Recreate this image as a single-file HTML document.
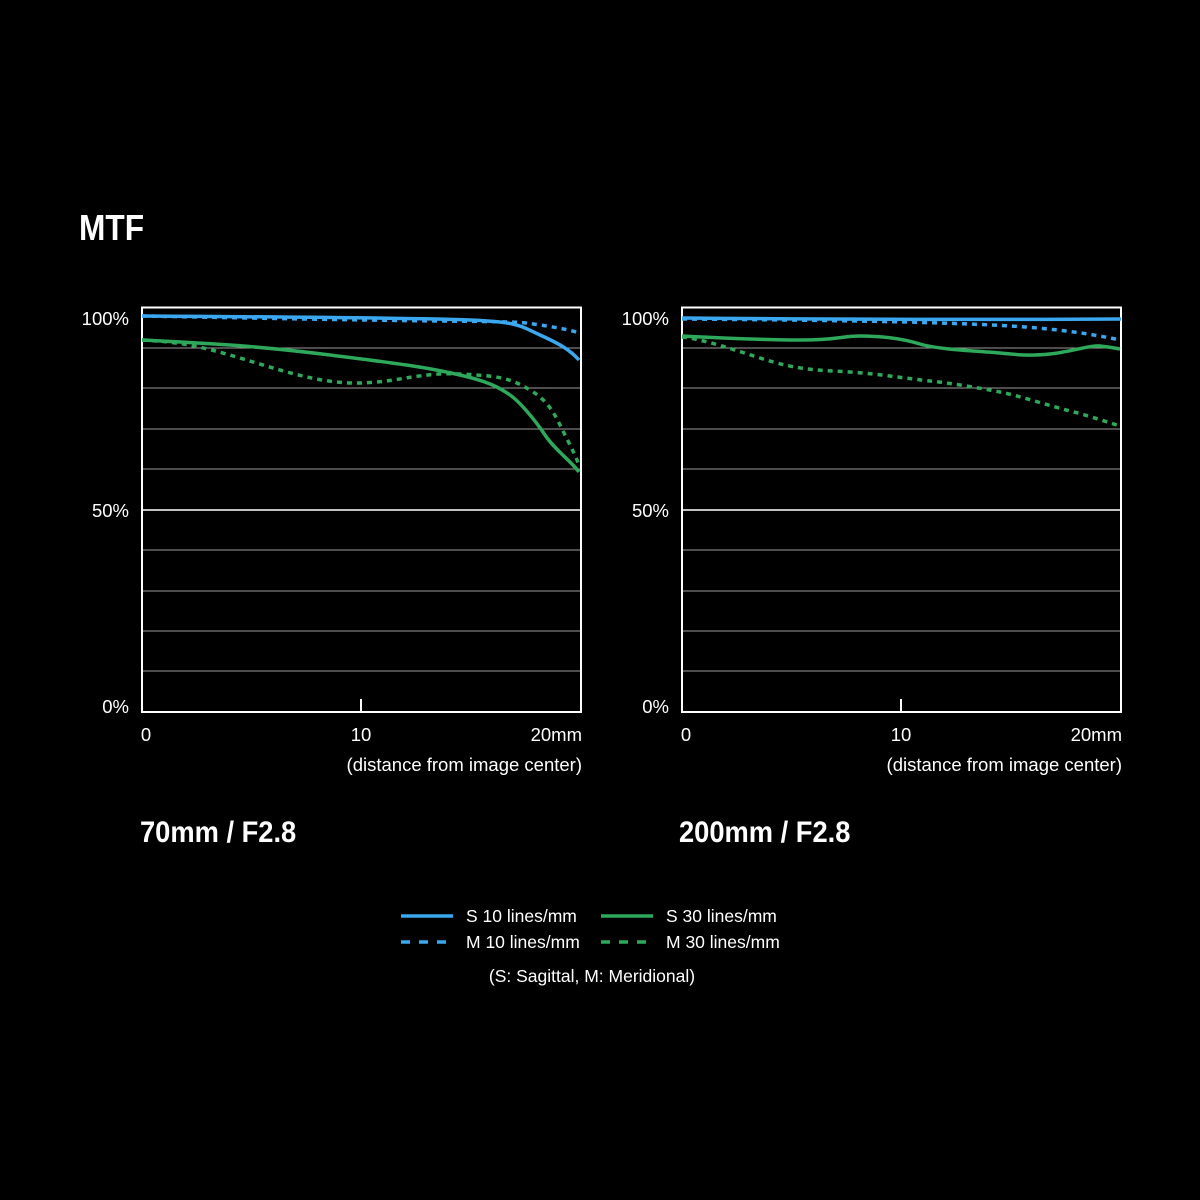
<!DOCTYPE html>
<html><head><style>
html,body{margin:0;padding:0;background:#000;}
svg{display:block;}
</style></head><body>
<svg width="1200" height="1200" viewBox="0 0 1200 1200" xmlns="http://www.w3.org/2000/svg" font-family="Liberation Sans, Arial, sans-serif">
<rect width="1200" height="1200" fill="#000"/>
<text x="79" y="240" fill="#fff" font-size="36" font-weight="bold" transform="translate(79 0) scale(0.88 1) translate(-79 0)">MTF</text>

<g id="c1">
<g stroke="#9a9a9a" stroke-width="1">
<line x1="142" x2="581" y1="348" y2="348"/><line x1="142" x2="581" y1="388" y2="388"/>
<line x1="142" x2="581" y1="429" y2="429"/><line x1="142" x2="581" y1="469" y2="469"/>
<line x1="142" x2="581" y1="550" y2="550"/><line x1="142" x2="581" y1="591" y2="591"/>
<line x1="142" x2="581" y1="631" y2="631"/><line x1="142" x2="581" y1="671" y2="671"/>
</g>
<line x1="142" x2="581" y1="510" y2="510" stroke="#fff" stroke-width="1.5"/>
<rect x="142" y="307.5" width="439" height="404.5" fill="none" stroke="#fff" stroke-width="2"/>
<line x1="361" x2="361" y1="699" y2="712" stroke="#fff" stroke-width="2"/>
<g fill="none" stroke-width="3.5">
<path d="M142,340 C200,343 250,345 330,355 S430,368 460,375 S500,388 510,395 S535,420 545,435 S570,460 579,472" stroke="#2ea85a"/>
<path d="M142,340 C180,342 200,346 240,358 S320,384 360,383 S420,372 460,374 S510,378 530,390 S555,415 565,435 S575,455 579,465" stroke="#2ea85a" stroke-dasharray="5 5"/>
<path d="M142,316 C300,317 420,318 470,320 S520,326 540,335 S570,350 579,360" stroke="#3ba7ee"/>
<path d="M142,316 C250,318 350,320 440,321 S520,322 540,325 S570,330 579,333" stroke="#3ba7ee" stroke-dasharray="5 5"/>
</g>
<g fill="#fff" font-size="18.5">
<text x="129" y="325" text-anchor="end">100%</text>
<text x="129" y="517" text-anchor="end">50%</text>
<text x="129" y="713" text-anchor="end">0%</text>
<text x="146" y="741" text-anchor="middle">0</text>
<text x="361" y="741" text-anchor="middle">10</text>
<text x="582" y="741" text-anchor="end">20mm</text>
<text x="582" y="771" text-anchor="end">(distance from image center)</text>
</g>
<text x="140" y="842" fill="#fff" font-size="30" font-weight="bold" transform="translate(140 0) scale(0.91 1) translate(-140 0)">70mm / F2.8</text>
</g>

<g id="c2">
<g stroke="#9a9a9a" stroke-width="1">
<line x1="682" x2="1121" y1="348" y2="348"/><line x1="682" x2="1121" y1="388" y2="388"/>
<line x1="682" x2="1121" y1="429" y2="429"/><line x1="682" x2="1121" y1="469" y2="469"/>
<line x1="682" x2="1121" y1="550" y2="550"/><line x1="682" x2="1121" y1="591" y2="591"/>
<line x1="682" x2="1121" y1="631" y2="631"/><line x1="682" x2="1121" y1="671" y2="671"/>
</g>
<line x1="682" x2="1121" y1="510" y2="510" stroke="#fff" stroke-width="1.5"/>
<rect x="682" y="307.5" width="439" height="404.5" fill="none" stroke="#fff" stroke-width="2"/>
<line x1="901" x2="901" y1="699" y2="712" stroke="#fff" stroke-width="2"/>
<g fill="none" stroke-width="3.5">
<path d="M682,336 C720,338 760,340 800,340 S840,336 860,336 S900,338 920,344 S980,351 1000,353 S1030,356 1050,354 S1090,345 1100,346 S1115,348 1120,349" stroke="#2ea85a"/>
<path d="M682,337 C700,339 720,345 760,358 S820,370 850,372 S910,379 930,381 S980,388 1000,392 S1050,406 1070,411 S1110,423 1120,426" stroke="#2ea85a" stroke-dasharray="5 5"/>
<path d="M682,318 C800,319 950,320 1121,319" stroke="#3ba7ee"/>
<path d="M682,319 C800,320 880,321 940,323 S1060,327 1120,340" stroke="#3ba7ee" stroke-dasharray="5 5"/>
</g>
<g fill="#fff" font-size="18.5">
<text x="669" y="325" text-anchor="end">100%</text>
<text x="669" y="517" text-anchor="end">50%</text>
<text x="669" y="713" text-anchor="end">0%</text>
<text x="686" y="741" text-anchor="middle">0</text>
<text x="901" y="741" text-anchor="middle">10</text>
<text x="1122" y="741" text-anchor="end">20mm</text>
<text x="1122" y="771" text-anchor="end">(distance from image center)</text>
</g>
<text x="679" y="842" fill="#fff" font-size="30" font-weight="bold" transform="translate(679 0) scale(0.91 1) translate(-679 0)">200mm / F2.8</text>
</g>

<g stroke-width="3.5">
<line x1="401" x2="453" y1="916" y2="916" stroke="#3ba7ee"/>
<line x1="401" x2="453" y1="942" y2="942" stroke="#3ba7ee" stroke-dasharray="9 9"/>
<line x1="601" x2="653" y1="916" y2="916" stroke="#2ea85a"/>
<line x1="601" x2="653" y1="942" y2="942" stroke="#2ea85a" stroke-dasharray="9 9"/>
</g>
<g fill="#fff" font-size="17.5">
<text x="466" y="922">S  10 lines/mm</text>
<text x="466" y="948">M 10 lines/mm</text>
<text x="666" y="922">S  30 lines/mm</text>
<text x="666" y="948">M 30 lines/mm</text>
<text x="592" y="982" text-anchor="middle">(S: Sagittal, M: Meridional)</text>
</g>
</svg>
</body></html>
